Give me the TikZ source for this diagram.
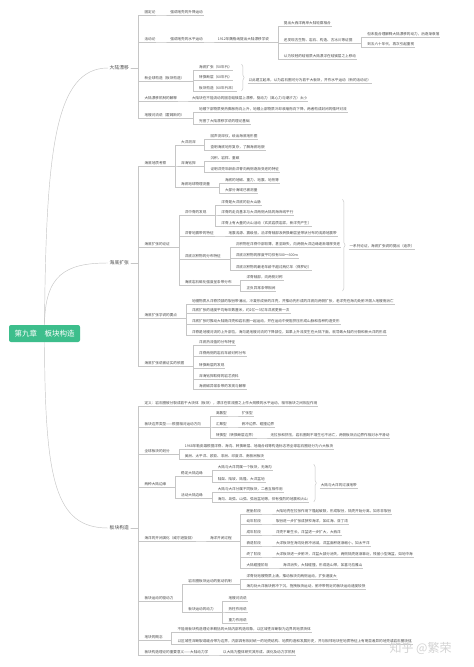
\documentclass[tikz,border=0pt]{standalone}
\usepackage{fontspec}
\setmainfont{Noto Sans CJK SC}
\usetikzlibrary{calc,decorations.pathreplacing}
\definecolor{bg}{HTML}{FFFFFF}
\definecolor{line}{HTML}{C6C6C6}
\definecolor{ink}{HTML}{4A4A4A}
\definecolor{rootfill}{HTML}{3DBE8C}
\definecolor{wmark}{HTML}{D4D4D4}
\tikzset{
  conn/.style={draw=line, line width=0.45pt},
  tnode/.style={anchor=south west, inner xsep=0.8pt, inner ysep=1pt, text=ink, font=\fontsize{3.6}{4}\selectfont},
  leaf/.style={tnode, append after command={(\tikzlastnode.south west) edge[conn] (\tikzlastnode.south east)}},
  topic/.style={tnode, anchor=west, inner xsep=1.5pt, font=\fontsize{4.8}{5}\selectfont},
  rootbox/.style={fill=rootfill, rounded corners=2pt, text=white, font=\fontsize{7.5}{8}\selectfont, minimum width=71pt, minimum height=17pt},
  brc/.style={draw=line, line width=0.45pt, decorate, decoration={brace, amplitude=2.5pt}},
  wm/.style={text=wmark, font=\fontsize{12}{12}\selectfont, anchor=south west},
}
% child to the right of its parent, joined by an elbow
\newcommand{\kid}[5][south east]{%
  \node[leaf, xshift=13pt] (#3) at (#2.#1 |- 0,#4) {#5};
  \draw[conn] (#2.#1) -- ++(8pt,0) |- (#3.south west);
}

\begin{document}
\begin{tikzpicture}[x=1pt, y=-1pt]
  \fill[bg] (0,0) rectangle (474,667);
  \useasboundingbox (0,0) rectangle (474,667);

  \node[rootbox] (root) at (44.5,333.5) {第九章\quad 板块构造};
  \node[topic] (b1) at (108,68) {大陆漂移};
  \node[topic] (b2) at (108,263) {海底扩张};
  \node[topic] (b3) at (108,528) {板块构造};
  \draw[conn] (root.north) .. controls (46,150) and (55,68) .. (b1.west);
  \draw[conn] (root.north) .. controls (45,275) and (65,263) .. (b2.west);
  \draw[conn] (root.south) .. controls (45,480) and (55,528) .. (b3.west);

  % 大陆漂移
  \kid[east]{b1}{d1}{15}{固定论}
  \kid{d1}{d1a}{15}{强调地壳的升降运动}
  \kid[east]{b1}{d2}{42}{活动论}
  \kid{d2}{d2a}{42}{强调地壳的水平运动}
  \kid{d2a}{d2b}{42}{1912年魏格纳提出大陆漂移学说}
  \kid{d2b}{d2c}{26}{提出大西洋两岸大陆轮廓相合}
  \kid{d2b}{d2d}{43}{还发现古生物、岩石、构造、古冰川等证据}
  \kid{d2b}{d2g}{59}{认为较轻的硅铝质大陆漂浮在硅镁层之上移动}
  \kid{d2d}{d2e}{37}{但未能合理解释大陆漂移的动力，后逐渐衰落}
  \kid{d2d}{d2f}{47}{到五六十年代，再次引起重视}
  \kid[east]{b1}{d3}{81}{新全球构造（板块构造）}
  \kid{d3}{d3a}{70}{海底扩张（50年代）}
  \kid{d3}{d3b}{80}{转换断层（60年代）}
  \kid{d3}{d3c}{91}{板块构造（60年代末）}
  \coordinate (s1t) at ([xshift=5pt]d3c.south east |- d3a.north);
  \coordinate (s1b) at ([xshift=5pt]d3c.south east |- d3c.south);
  \draw[brc] (s1t) -- (s1b);
  \node[leaf] (d3s) at ([xshift=6pt]s1t |- 0,83) {以此建立起来，认为岩石圈可分为若干大板块，并作水平运动（新的活动论）};
  \kid[east]{b1}{d4}{101}{大陆漂移机制的解释}
  \kid{d4}{d4a}{101}{大陆块在不能流动的固态硅镁层上漂移，驱动力（离心力与潮汐力）太小}
  \kid[east]{b1}{d5}{118}{地幔对流说（霍姆斯的）}
  \kid{d5}{d5a}{112}{地幔下部物质受热膨胀而向上升，地幔上部物质冷却收缩而向下降，两者构成封闭的循环对流}
  \kid{d5}{d5b}{124}{完善了大陆漂移学说的理论基础}

  % 海底扩张
  \kid[east]{b2}{e1}{166}{海底地质考察}
  \kid{e1}{e1a}{145}{大洋测深}
  \kid{e1a}{e1a1}{139}{回声测深仪，绘出海底地形图}
  \kid{e1a}{e1a2}{150}{查明海底地形复杂，了解海底地貌}
  \kid{e1}{e1b}{166}{深海钻探}
  \kid{e1b}{e1b1}{161}{沉积、岩样、重磁}
  \kid{e1b}{e1b2}{172}{证明洋壳年龄由洋脊向两侧逐渐变老的特征}
  \kid{e1}{e1c}{187}{海底地球物理测量}
  \kid{e1c}{e1c1}{183}{海底的地磁、重力、地震、地热等}
  \kid{e1c}{e1c2}{193}{大部分海域已被测量}
  \kid[east]{b2}{e2}{247}{海底扩张的论证}
  \kid{e2}{e2a}{215}{洋中脊的发现}
  \kid{e2a}{e2a1}{205}{洋脊是大洋底的巨大山脉}
  \kid{e2a}{e2a2}{215}{洋脊的走向基本与大洋两侧大陆的海岸线平行}
  \kid{e2a}{e2a3}{226}{洋脊上有大量的火山活动（玄武岩质岩浆，新洋壳产生）}
  \kid{e2}{e2b}{236}{洋脊地震带的特征}
  \kid{e2b}{e2b1}{236}{地震浅源、震级低，沿洋脊轴部及转换断层呈带状分布的浅源地震带}
  \kid{e2}{e2c}{259}{洋底沉积物的分布特征}
  \kid{e2c}{e2c1}{247}{沉积物在洋脊中部较薄，甚至缺失，向两侧大洋边缘逐渐增厚变老}
  \kid{e2c}{e2c2}{258}{洋底沉积物的厚度平均仅有500～600m}
  \kid{e2c}{e2c3}{270}{洋底沉积物的最老年龄不超过两亿年（侏罗纪）}
  \kid{e2}{e2d}{285}{海底岩石磁化强度呈条带分布}
  \kid{e2d}{e2d1}{280}{洋脊轴部，向两侧对称}
  \kid{e2d}{e2d2}{291}{正负异常条带相间}
  \coordinate (s2t) at ([xshift=5pt]e2b1.south east |- e2a1.north);
  \coordinate (s2b) at ([xshift=5pt]e2b1.south east |- e2d2.south);
  \draw[brc] (s2t) -- (s2b);
  \node[leaf] (e2s) at ([xshift=6pt]s2t |- 0,249) {一系列论证，海底扩张说的提出（迪茨）};
  \kid[east]{b2}{e3}{318}{海底扩张学说的要点}
  \kid{e3}{e3a}{304}{地幔物质从洋脊顶部的裂谷带涌出，冷凝形成新的洋壳，并推动先形成的洋底向两侧扩张，老洋壳在海沟处俯冲潜入地幔而消亡}
  \kid{e3}{e3b}{313}{洋底扩张的速度平均每年数厘米，约2亿～3亿年洋底更新一次}
  \kid{e3}{e3c}{324}{洋底扩张时推动大陆随洋壳和岩石圈一起运动，并在运动中受阻挤压形成山脉和各种构造变形}
  \kid{e3}{e3d}{335}{洋脊是地幔对流的上升部位，海沟是地幔对流的下降部位，如果上升流发生在大陆下面，就导致大陆的分裂和新大洋的形成}
  \kid[east]{b2}{e4}{366}{海底扩张说被证实的依据}
  \kid{e4}{e4a}{345}{洋底热流值的分布特征}
  \kid{e4}{e4b}{356}{洋脊两侧的岩石年龄对称分布}
  \kid{e4}{e4c}{368}{转换断层的发现}
  \kid{e4}{e4d}{379}{深海钻探取得的岩芯资料}
  \kid{e4}{e4e}{389}{海底磁异常条带的发现与解释}

  % 板块构造
  \kid[east]{b3}{f1}{406}{定义：岩石圈被分裂成若干大块体（板块），漂浮在软流圈之上作大规模的水平运动，相邻板块之间相互作用}
  \kid[east]{b3}{f2}{427}{板块边界类型——根据相对运动方向}
  \kid{f2}{f2a}{416}{离散型}
  \kid{f2a}{f2a1}{416}{扩张型}
  \kid{f2}{f2b}{427}{汇聚型}
  \kid{f2b}{f2b1}{427}{俯冲边界、碰撞边界}
  \kid{f2}{f2c}{438}{转换型（转换断层边界）}
  \kid{f2c}{f2c1}{438}{无拉张和挤压，岩石圈既不增生也不消亡，两侧板块沿边界作相对水平滑动}
  \kid[east]{b3}{f3}{454}{全球板块的划分}
  \kid{f3}{f3a}{449}{1968年勒皮雄根据洋脊、海沟、转换断层、地缝合线等构造标志将全球岩石圈划分为六大板块}
  \kid{f3}{f3b}{459}{美洲、太平洋、欧亚、非洲、印度洋、南极洲板块}
  \kid[east]{b3}{f4}{487}{两种大陆边缘}
  \kid{f4}{f4a}{476}{稳定大陆边缘}
  \kid{f4a}{f4a1}{470}{大陆与大洋同属一个板块，无海沟}
  \kid{f4a}{f4a2}{482}{陆架、陆坡、陆隆、大洋盆地}
  \kid{f4}{f4b}{498}{活动大陆边缘}
  \kid{f4b}{f4b1}{492}{大陆与大洋分属不同板块，二者互相作用}
  \kid{f4b}{f4b2}{502}{海沟、岛弧、山弧、弧后盆地等，伴有强烈的地震和火山}
  \coordinate (s3t) at ([xshift=5pt]f4b2.south east |- f4a1.north);
  \coordinate (s3b) at ([xshift=5pt]f4b2.south east |- f4b2.south);
  \draw[brc] (s3t) -- (s3b);
  \node[leaf] (f4s) at ([xshift=6pt]s3t |- 0,488) {大陆与大洋的过渡地带};
  \kid[east]{b3}{f5}{541}{海洋的开闭演化（威尔逊旋回）}
  \kid{f5}{f5a}{541}{海洋开闭过程}
  \kid{f5a}{g1}{514}{胚胎阶段}
  \kid{g1}{g1a}{514}{大陆地壳在拉张作用下隆起破裂，形成裂谷，陆壳开始分离，如东非裂谷}
  \kid{f5a}{g2}{524}{幼年阶段}
  \kid{g2}{g2a}{524}{裂谷进一步扩张成狭窄海洋，如红海、亚丁湾}
  \kid{f5a}{g3}{535}{成年阶段}
  \kid{g3}{g3a}{535}{洋壳不断生长，洋盆进一步扩大，大西洋}
  \kid{f5a}{g4}{546}{衰退阶段}
  \kid{g4}{g4a}{546}{大洋板块在海沟处俯冲消减，洋盆面积逐渐缩小，如太平洋}
  \kid{f5a}{g5}{557}{终了阶段}
  \kid{g5}{g5a}{557}{大洋板块进一步俯冲，洋盆大部分消失，两侧陆壳逐渐靠近，残留小型海盆，如地中海}
  \kid{f5a}{g6}{568}{大陆碰撞阶段}
  \kid{g6}{g6a}{568}{海洋消失，大陆碰撞，形成造山带，如喜马拉雅山}
  \kid[east]{b3}{f6}{601}{板块运动的驱动力}
  \kid{f6}{f6a}{584}{岩石圈板块运动的驱动机制}
  \kid{f6a}{f6a1}{579}{洋脊处地幔物质上涌，推动板块向两侧运动，扩张速度大}
  \kid{f6a}{f6a2}{589}{海沟处大洋板块俯冲下沉，拖拽板块运动，俯冲带附近的板块运动速度较快}
  \kid{f6}{f6b}{612}{板块运动的动力}
  \kid{f6b}{f6b1}{601}{地幔对流说}
  \kid{f6b}{f6b2}{612}{热柱作用说}
  \kid{f6b}{f6b3}{623}{重力作用说}
  \kid[east]{b3}{f7}{640}{地块的概念}
  \kid{f7}{f7a}{632}{不能用板块构造理论来概括的大陆内部构造现象，以区域性深断裂为边界的地质块体}
  \kid{f7}{f7b}{644}{以区域性深断裂或缝合带为边界，内部具有相对统一的地壳结构、地质构造和发展历史，并与相邻地块在地质特征上有明显差异的地壳或岩石圈块体}
  \kid[east]{b3}{f8}{655}{板块构造理论的重要意义——大陆动力学}
  \kid{f8}{f8a}{655}{以大陆为整体研究其形成、演化及动力学机制}

  \node[wm] (mark) at (386,658) {知乎 @繁荣};
\end{tikzpicture}
\end{document}
